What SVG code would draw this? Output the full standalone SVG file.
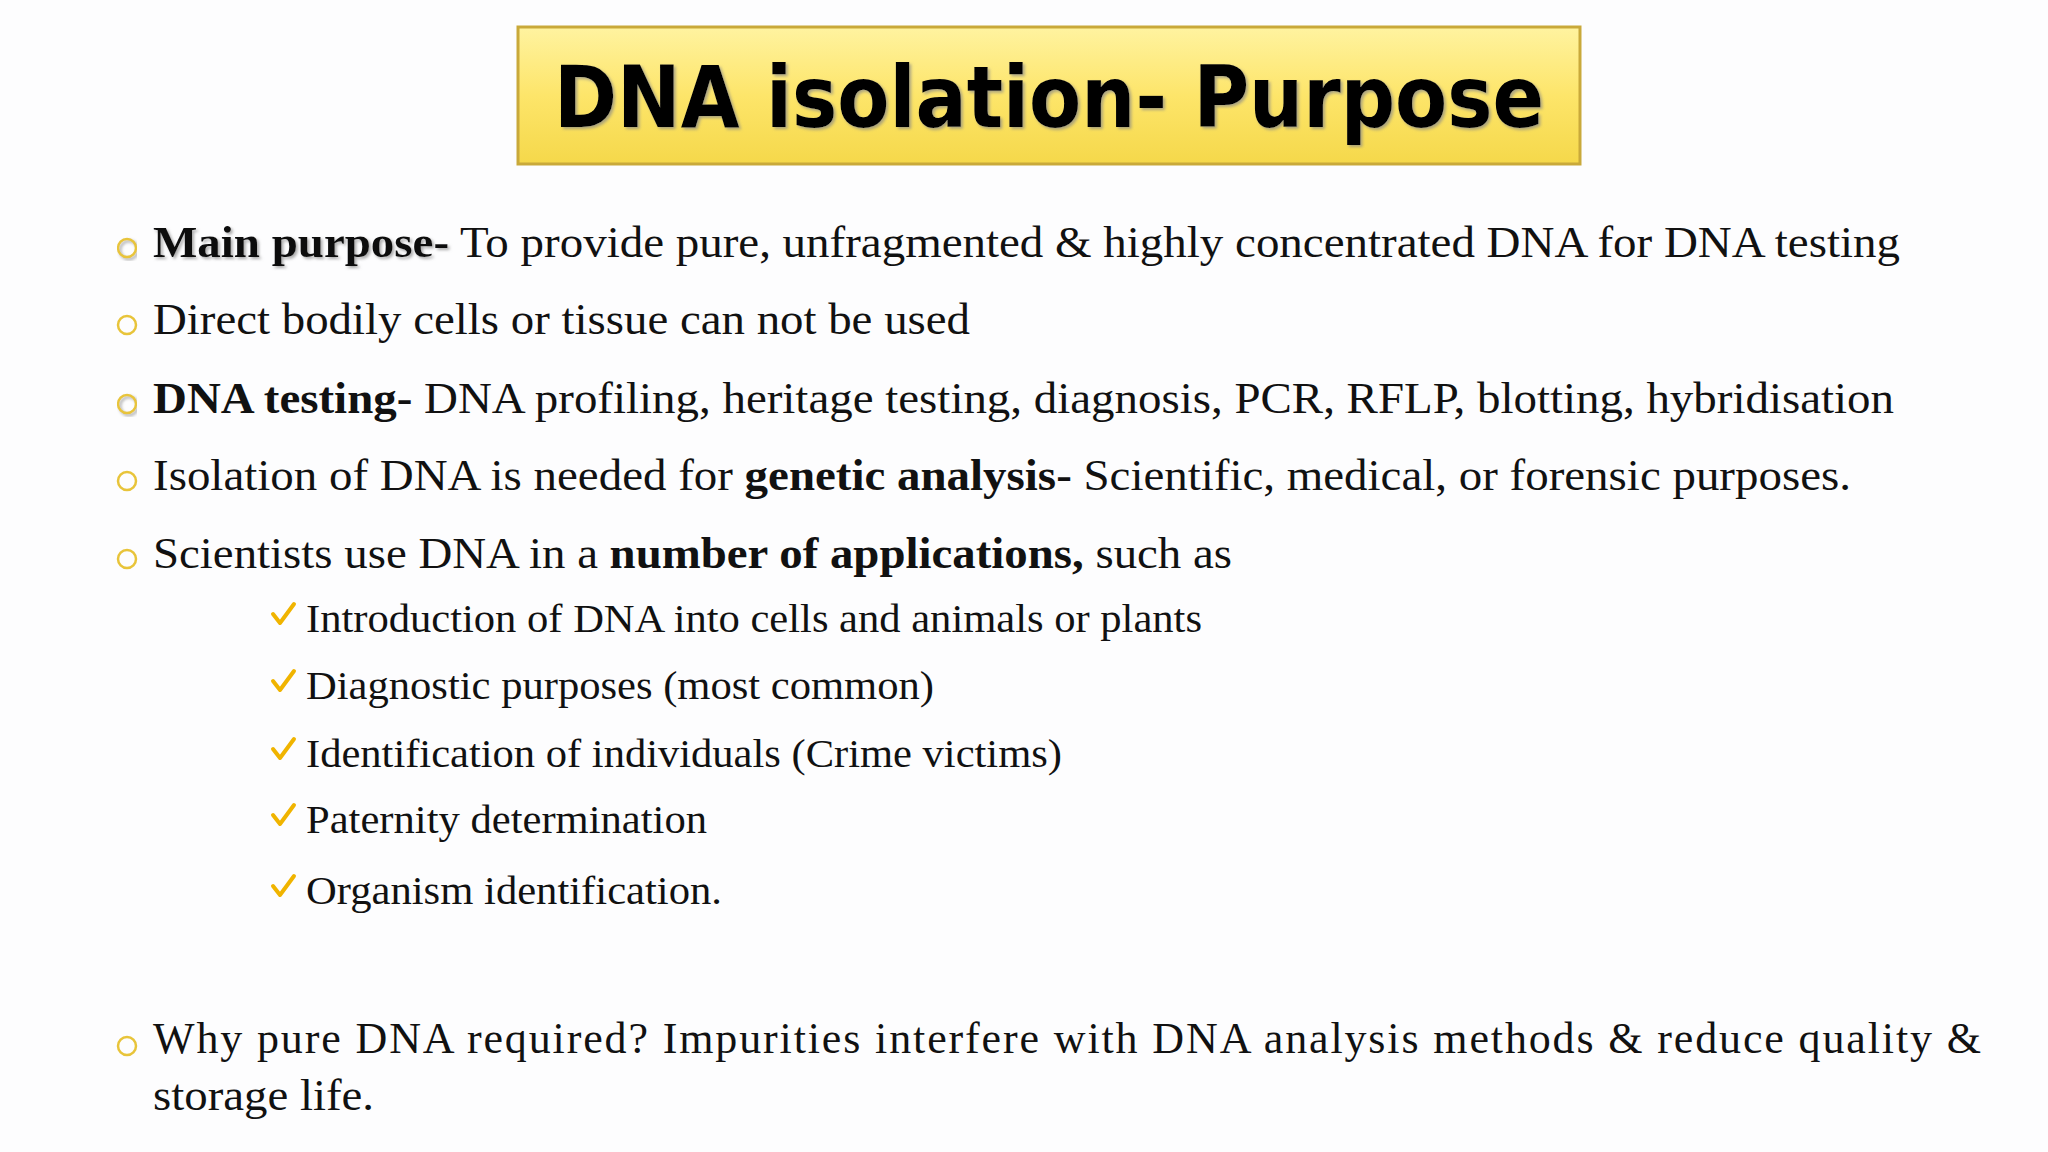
<svg xmlns="http://www.w3.org/2000/svg" width="2048" height="1152" viewBox="0 0 2048 1152">
<defs>
<linearGradient id="tg" x1="0" y1="0" x2="0" y2="1">
<stop offset="0" stop-color="#fff3a0"/><stop offset="0.5" stop-color="#fde56a"/><stop offset="1" stop-color="#f5d84a"/>
</linearGradient>
<filter id="sh" x="-5%" y="-20%" width="110%" height="140%"><feDropShadow dx="2" dy="2" stdDeviation="1.5" flood-color="#888" flood-opacity="0.7"/></filter>
</defs>
<style>
.t{font-family:"Liberation Serif","Times New Roman",serif;font-size:44px;fill:#111}
.s{font-family:"Liberation Serif","Times New Roman",serif;font-size:40px;fill:#111}
.b{font-weight:bold}
.bul{fill:none;stroke:#e8c43a;stroke-width:2.5}
.ck{fill:none;stroke:#f0b400;stroke-width:4;stroke-linecap:round;stroke-linejoin:round}
</style>
<rect width="2048" height="1152" fill="#fdfdfe"/>
<g id="title">
<rect x="518" y="27" width="1062" height="137" fill="url(#tg)" stroke="#c9a93a" stroke-width="3"/>
<text x="1049" y="127" text-anchor="middle" font-family="DejaVu Sans, Verdana, sans-serif" font-weight="bold" font-size="86" fill="#000" textLength="990" lengthAdjust="spacingAndGlyphs" filter="url(#sh)">DNA isolation- Purpose</text>
</g>
<g id="bullets">
<circle class="bul" cx="127" cy="248" r="9" filter="url(#sh)"/>
<text class="t" x="153" y="257" textLength="1747" lengthAdjust="spacingAndGlyphs"><tspan class="b" filter="url(#sh)">Main purpose-</tspan> To provide pure, unfragmented &amp; highly concentrated DNA for DNA testing</text>
<circle class="bul" cx="127" cy="325" r="9"/>
<text class="t" x="153" y="334" textLength="817" lengthAdjust="spacingAndGlyphs">Direct bodily cells or tissue can not be used</text>
<circle class="bul" cx="127" cy="404" r="9" filter="url(#sh)"/>
<text class="t" x="153" y="413" textLength="1741" lengthAdjust="spacingAndGlyphs"><tspan class="b">DNA testing-</tspan> DNA profiling, heritage testing, diagnosis, PCR, RFLP, blotting, hybridisation</text>
<circle class="bul" cx="127" cy="481" r="9"/>
<text class="t" x="153" y="490" textLength="1698" lengthAdjust="spacingAndGlyphs">Isolation of DNA is needed for <tspan class="b">genetic analysis-</tspan> Scientific, medical, or forensic purposes.</text>
<circle class="bul" cx="127" cy="559" r="9"/>
<text class="t" x="153" y="568" textLength="1079" lengthAdjust="spacingAndGlyphs">Scientists use DNA in a <tspan class="b">number of applications,</tspan> such as</text>
<circle class="bul" cx="127" cy="1046" r="9"/>
<text class="t" x="153" y="1053" textLength="1828" lengthAdjust="spacing">Why pure DNA required? Impurities interfere with DNA analysis methods &amp; reduce quality &amp;</text>
<text class="t" x="153" y="1110" textLength="221" lengthAdjust="spacingAndGlyphs">storage life.</text>
</g>
<g id="subs">
<path class="ck" d="M273 614 l7 9 l14 -19"/>
<text class="s" x="306" y="632" textLength="896" lengthAdjust="spacingAndGlyphs">Introduction of DNA into cells and animals or plants</text>
<path class="ck" d="M273 681 l7 9 l14 -19"/>
<text class="s" x="306" y="699" textLength="628" lengthAdjust="spacingAndGlyphs">Diagnostic purposes (most common)</text>
<path class="ck" d="M273 749 l7 9 l14 -19"/>
<text class="s" x="306" y="767" textLength="756" lengthAdjust="spacingAndGlyphs">Identification of individuals (Crime victims)</text>
<path class="ck" d="M273 815 l7 9 l14 -19"/>
<text class="s" x="306" y="833" textLength="401" lengthAdjust="spacingAndGlyphs">Paternity determination</text>
<path class="ck" d="M273 886 l7 9 l14 -19"/>
<text class="s" x="306" y="904" textLength="416" lengthAdjust="spacingAndGlyphs">Organism identification.</text>
</g>
</svg>
